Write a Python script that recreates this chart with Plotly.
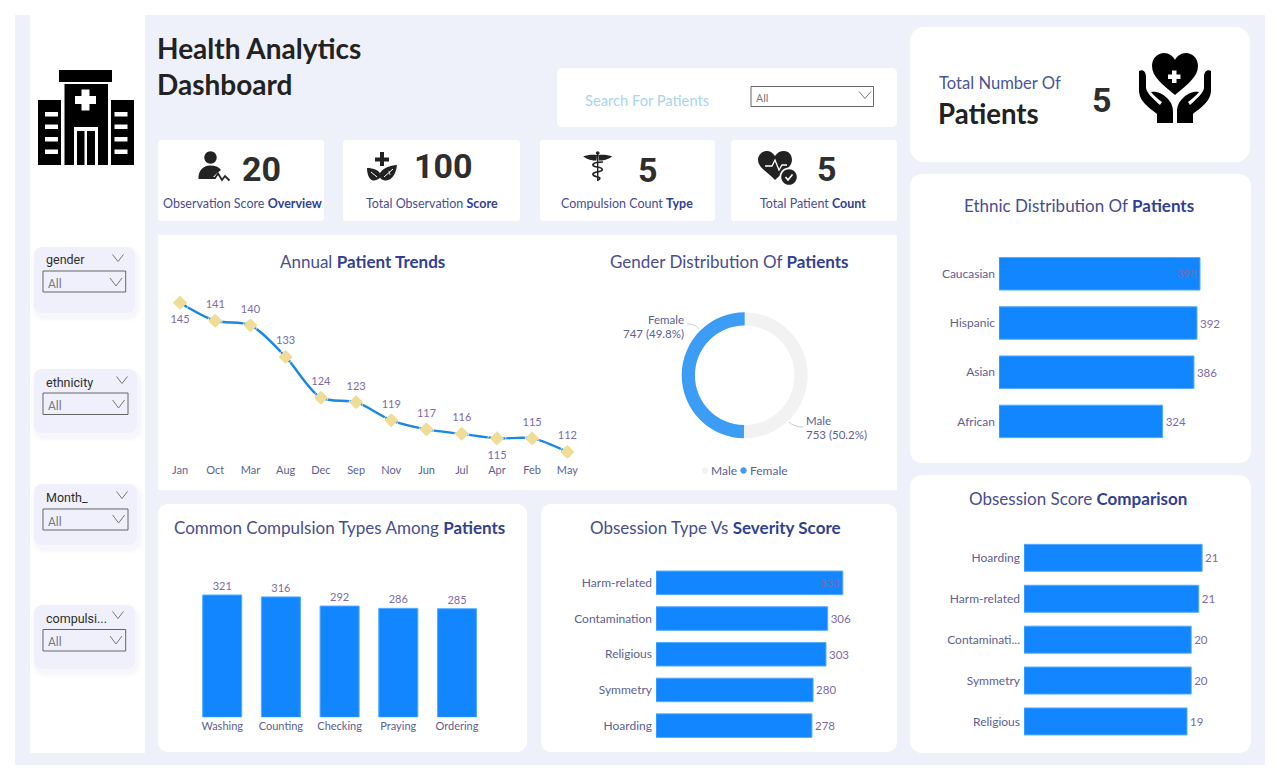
import re
import plotly.graph_objects as go

W, H = 1280, 780

# Data
months = ["Jan", "Oct", "Mar", "Aug", "Dec", "Sep", "Nov", "Jun", "Jul", "Apr", "Feb", "May"]
patient_counts = [145, 141, 140, 133, 124, 123, 119, 117, 116, 115, 115, 112]
month_label_side = ["bottom center", "top center", "top center", "top center", "top center", "top center",
                    "top center", "top center", "top center", "bottom center", "top center", "top center"]

genders = ["Male", "Female"]
gender_counts = [753, 747]

compulsions = ["Washing", "Counting", "Checking", "Praying", "Ordering"]
compulsion_counts = [321, 316, 292, 286, 285]

severity_types = ["Harm-related", "Contamination", "Religious", "Symmetry", "Hoarding"]
severity_scores = [333, 306, 303, 280, 278]

ethnicities = ["Caucasian", "Hispanic", "Asian", "African"]
ethnicity_counts = [398, 392, 386, 324]

score_types = ["Hoarding", "Harm-related", "Contaminati...", "Symmetry", "Religious"]
score_means = [21.2, 20.8, 19.9, 19.9, 19.4]

kpi_values = ["20", "100", "5", "5"]
total_patients = "5"

# Palette and fonts
LAVENDER = "#EEF0FA"
BAR = "#1186FF"
BAR_EDGE = "#55ABFF"
TITLE = "#474E90"
TITLE_BOLD = "#323F93"
LABEL = "#7B6BA8"
TICK = "#5C6193"
INK = "#222222"
NUMBER = "#2E2E2E"
SANS = "Lato"
DIN = "Roboto"

shapes, notes = [], []


def fx(px):
    return px / W


def fy(py):
    return 1 - py / H


def to_paper(d):
    """Convert an absolute M/L/C/Z path in screen pixels to paper fractions."""
    out, is_x = [], True
    for tok in re.findall(r"[MLCZ]|-?[\d.]+", d):
        if tok in "MLCZ":
            out.append(tok)
            is_x = True
        else:
            out.append(f"{fx(float(tok)):.5f}" if is_x else f"{fy(float(tok)):.5f}")
            is_x = not is_x
    return " ".join(out)


def path(d, fill="#000000", line=None, width=0, opacity=1.0, layer="below"):
    shapes.append(dict(type="path", xref="paper", yref="paper", path=to_paper(d), layer=layer, opacity=opacity,
                       line=dict(color=line or "rgba(0,0,0,0)", width=width), fillcolor=fill))


def rrect_d(x0, y0, x1, y1, r=0):
    if r == 0:
        return f"M {x0} {y0} L {x1} {y0} L {x1} {y1} L {x0} {y1} Z"
    k = r * 0.45
    return (f"M {x0 + r} {y0} L {x1 - r} {y0} C {x1 - k} {y0} {x1} {y0 + k} {x1} {y0 + r} "
            f"L {x1} {y1 - r} C {x1} {y1 - k} {x1 - k} {y1} {x1 - r} {y1} "
            f"L {x0 + r} {y1} C {x0 + k} {y1} {x0} {y1 - k} {x0} {y1 - r} "
            f"L {x0} {y0 + r} C {x0} {y0 + k} {x0 + k} {y0} {x0 + r} {y0} Z")


def rect(x0, y0, x1, y1, fill="#FFFFFF", r=0, **kw):
    path(rrect_d(x0, y0, x1, y1, r), fill=fill, **kw)


def circle(cx, cy, r, fill="#000000", **kw):
    k = r * 0.5523
    path(f"M {cx - r} {cy} C {cx - r} {cy - k} {cx - k} {cy - r} {cx} {cy - r} "
         f"C {cx + k} {cy - r} {cx + r} {cy - k} {cx + r} {cy} "
         f"C {cx + r} {cy + k} {cx + k} {cy + r} {cx} {cy + r} "
         f"C {cx - k} {cy + r} {cx - r} {cy + k} {cx - r} {cy} Z", fill=fill, **kw)


def stroke(d, color="#000000", width=1.0):
    path(d, fill="rgba(0,0,0,0)", line=color, width=width)


def chevron(cx, cy, half=5.5, drop=3.5):
    stroke(f"M {cx - half} {cy - drop} L {cx} {cy + drop} L {cx + half} {cy - drop}", "#777777", 1)


def mirror(d, axis):
    out, is_x = [], True
    for tok in re.findall(r"[MLCZ]|-?[\d.]+", d):
        if tok in "MLCZ":
            out.append(tok)
            is_x = True
        else:
            out.append(str(2 * axis - float(tok)) if is_x else tok)
            is_x = not is_x
    return " ".join(out)


def text(x, y, s, size, color, anchor="left", family=SANS):
    notes.append(dict(x=fx(x), y=fy(y), xref="paper", yref="paper", text=s, showarrow=False,
                      xanchor=anchor, yanchor="middle", borderpad=0, align=anchor,
                      font=dict(size=size, color=color, family=family)))


def heading(x, y, plain, bold, size=17):
    text(x, y, f"{plain} <b style='color:{TITLE_BOLD}'>{bold}</b>", size, TITLE, "center")


# Page backdrop and panels
rect(15, 15, 1265, 765, LAVENDER)
rect(30, 15, 145, 753, "#FFFFFF")
rect(557, 68, 897, 127, "#FFFFFF", r=5)
for x0, x1 in [(158, 324), (343, 520), (540, 715), (731, 897)]:
    rect(x0, 140, x1, 221, "#FFFFFF", r=3)
rect(158, 235, 897, 490, "#FFFFFF")
rect(158, 504, 527, 752, "#FFFFFF", r=10)
rect(541, 504, 897, 752, "#FFFFFF", r=10)
rect(910, 27, 1250, 162, "#FFFFFF", r=14)
rect(910, 174, 1251, 463, "#FFFFFF", r=12)
rect(910, 475, 1251, 753, "#FFFFFF", r=12)

# Filter cards in the sidebar
filters = [
    ("gender", 34, 135, 247, 313, 43, 125.7, 271, 292, 118, 258, 116, 282, 260),
    ("ethnicity", 34, 137, 369, 433, 43, 128, 393, 414.5, 122, 380, 118.6, 404, 382),
    ("Month_", 34, 137, 484, 545, 43, 128, 509, 530, 122, 495, 118.6, 519, 498),
    ("compulsi...", 34, 135, 605, 669, 43, 125.7, 629.5, 651, 118, 615, 116, 640, 618),
]
for name, cx0, cx1, cy0, cy1, bx0, bx1, by0, by1, hx, hy, dx, dy, ty in filters:
    for grow, alpha in [(5, 0.07), (3, 0.10), (1.5, 0.14)]:
        rect(cx0 - grow + 2, cy0 - grow + 4, cx1 + grow + 2, cy1 + grow + 4, "#E4E6F4", r=9 + grow, opacity=alpha)
    rect(cx0, cy0, cx1, cy1, "#EFF0FB", r=8)
    rect(bx0, by0, bx1, by1, "rgba(0,0,0,0)", line="#666666", width=1)
    chevron(hx, hy)
    chevron(dx, dy, half=6, drop=4)
    text(44.5, ty, name, 12.5, "#2E2E2E", family=DIN)
    text(47, (by0 + by1) / 2 + 2, "All", 12, "#7A7A7A", family=DIN)

# Hospital icon
rect(59, 70, 112, 82, "#000000")
rect(64.5, 84, 108, 165, "#000000")
rect(38, 100, 61, 165, "#000000")
rect(111, 100, 134, 165, "#000000")
rect(81.5, 89.5, 89.5, 110.5, "#FFFFFF")
rect(75, 96, 96, 104, "#FFFFFF")
for wy in [112, 124.5, 137, 149.5]:
    rect(45, wy, 58, wy + 4.5, "#FFFFFF")
    rect(114.5, wy, 127.5, wy + 4.5, "#FFFFFF")
rect(74, 127, 98, 165, "#FFFFFF")
rect(77, 131, 84.5, 165, "#000000")
rect(87, 131, 95, 165, "#000000")

# Page title and search box
text(156, 48, "<b>Health Analytics</b>", 28, INK)
text(156, 84, "<b>Dashboard</b>", 28, INK)
text(583.5, 100.5, "Search For Patients", 14.7, "#A9D4EE")
rect(751, 86.5, 873.5, 106.5, "rgba(0,0,0,0)", line="#666666", width=1)
text(755, 98, "All", 11, "#7A7A7A", family=DIN)
chevron(865, 95, half=6, drop=3.5)

# KPI tiles
text(261, 168.5, f"<b>{kpi_values[0]}</b>", 34, NUMBER, "center", DIN)
text(443, 165.5, f"<b>{kpi_values[1]}</b>", 34, NUMBER, "center", DIN)
text(648, 169.5, f"<b>{kpi_values[2]}</b>", 34, NUMBER, "center", DIN)
text(827, 168.5, f"<b>{kpi_values[3]}</b>", 34, NUMBER, "center", DIN)
for cx, plain, bold in [(242.5, "Observation Score", "Overview"), (432, "Total Observation", "Score"),
                        (627, "Compulsion Count", "Type"), (812.5, "Total Patient", "Count")]:
    text(cx, 203.5, f"{plain} <b style='color:{TITLE_BOLD}'>{bold}</b>", 12.5, TITLE, "center")

# Person with pulse icon
circle(210.5, 157.5, 6.2, INK)
path("M 198.5 179 C 198 171 203 165.5 210 165.5 C 215 165.5 219 167 221 170 L 216 174 L 213 177 L 210 179 Z", INK)
stroke("M 209 178 L 215 178 L 218 173.5 L 222 180 L 225 176 L 229.5 180.5", INK, 1.8)

# Plus over two leaves icon
rect(380, 152, 384, 166, INK)
rect(375, 157.5, 389, 161.5, INK)
path("M 367 168 C 373 168 380 170 381 176 C 380 179 376 180.5 373 180.5 C 369 179.5 367 174 367 168 Z", INK)
path("M 397 165 C 390 165.5 382 168 379.5 174 C 378.5 178 382 180.5 386 180.5 C 392 180 396 174 397 165 Z", INK)
stroke("M 371 172 L 377 177", "#FFFFFF", 1)
stroke("M 393 169 L 384 177", "#FFFFFF", 1)
stroke("M 389 171 L 390 175", "#FFFFFF", 0.8)

# Caduceus icon
wing = "M 597 155 C 592 154.5 587 155 583 156.5 C 586 158 590 161 596.5 160.5 Z"
path(wing, INK)
path(mirror(wing, 597.7), INK)
circle(597.7, 153, 1.8, INK)
rect(597, 153, 598.4, 181, INK)
stroke("M 603 162 C 592 162 590 166 597 167 C 604 168 604 171 597 172 C 591 173 592 176 598 177 "
       "C 601 178 600 179 598 180", INK, 1.7)

# Heart with check icon
path("M 775 180 C 767 172 758 167 758 160 C 758 155 762 151 767 151 C 770 151 773 153 775 156 "
     "C 777 153 780 151 784 151 C 789 151 792 155 792 160 C 792 167 783 172 775 180 Z", INK)
stroke("M 765 166 L 772 166 L 775 160 L 779 170 L 782 165 L 787 165", "#FFFFFF", 1.3)
circle(789, 177, 9.5, "#FFFFFF")
circle(789, 177, 7.8, INK)
stroke("M 785.5 177 L 788 180 L 792.5 174.5", "#FFFFFF", 1.6)

# Total patients card
text(937.5, 83, "Total Number Of", 16.6, "#4A5599")
text(937, 113, "<b>Patients</b>", 27.6, INK)
text(1102, 99.5, f"<b>{total_patients}</b>", 34, NUMBER, "center", DIN)
path("M 1175 95 C 1163 85 1152 77 1152 66 C 1152 58 1158 53 1164 53 C 1169 53 1173 56 1175 60 "
     "C 1177 56 1181 53 1186 53 C 1192 53 1198 58 1198 66 C 1198 77 1187 85 1175 95 Z", "#000000")
rect(1172, 70.5, 1176.5, 83, "#FFFFFF")
rect(1168, 74.5, 1180.5, 79, "#FFFFFF")
hand = ("M 1139 71 C 1143 69 1146 72 1146 77 L 1146 88 C 1147 93 1152 98 1160 105 L 1162 102 "
        "C 1158 99 1154 96 1151 92 C 1157 91 1163 94 1167 98 C 1171 102 1173 106 1173 112 "
        "L 1173 123 L 1157 123 L 1157 114 C 1150 108 1139 102 1139 90 Z")
path(hand, "#000000")
path(mirror(hand, 1175), "#000000")

# Chart headings
heading(362, 262, "Annual", "Patient Trends")
heading(729, 262, "Gender Distribution Of", "Patients")
heading(339.5, 527, "Common Compulsion Types Among", "Patients")
heading(715.5, 527, "Obsession Type Vs", "Severity Score")
heading(1079, 206, "Ethnic Distribution Of", "Patients")
heading(1078, 499, "Obsession Score", "Comparison")

# Donut callouts and legend
text(685, 319, genders[1], 11.5, TICK, "right")
text(685, 333, f"{gender_counts[1]} ({gender_counts[1] / sum(gender_counts):.1%})", 11.5, TICK, "right")
text(805, 420, genders[0], 11.5, TICK)
text(805, 434, f"{gender_counts[0]} ({gender_counts[0] / sum(gender_counts):.1%})", 11.5, TICK)
stroke("M 687 324 C 692 324 696 325 699 329", "#BDBDBD", 0.8)
stroke("M 789 422 C 792 425 797 427 803 427", "#BDBDBD", 0.8)
circle(705, 470.5, 3.2, "#F2F2F2")
circle(743.5, 470.5, 3.2, "#3D9DF5")
text(710, 470.5, genders[0], 12, TICK)
text(748.5, 470.5, genders[1], 12, TICK)

fig = go.Figure()


def hbar_trace(cats, vals, xa, ya, inside_first=True):
    fig.add_trace(go.Bar(
        y=cats, x=vals, orientation="h", xaxis=xa, yaxis=ya, width=0.66,
        marker=dict(color=BAR, line=dict(color=BAR_EDGE, width=1)),
        texttemplate="%{x:.0f}",
        textposition=["inside" if (inside_first and i == 0) else "outside" for i in range(len(vals))],
        insidetextanchor="end", constraintext="none", cliponaxis=False,
        textfont=dict(size=11.5, color=LABEL, family=SANS),
        outsidetextfont=dict(size=11.5, color=LABEL, family=SANS),
        insidetextfont=dict(size=11.5, color=LABEL, family=SANS),
    ))


# Monthly trend line
fig.add_trace(go.Scatter(
    x=months, y=patient_counts, xaxis="x", yaxis="y", mode="lines+markers",
    line=dict(color="#1A87E2", width=2.4, shape="spline", smoothing=0.9),
    marker=dict(symbol="diamond", size=11, color="#EFDC97"),
    cliponaxis=False,
))
# Value labels sit on a transparent marker layer, which sets their gap from the line
fig.add_trace(go.Scatter(
    x=months, y=patient_counts, xaxis="x", yaxis="y", mode="markers+text",
    marker=dict(size=[18 if side.startswith("bottom") else 14 for side in month_label_side],
                color="rgba(0,0,0,0)"),
    text=[str(v) for v in patient_counts], textposition=month_label_side,
    textfont=dict(size=11, color=LABEL, family=SANS), cliponaxis=False,
))

# Gender donut
fig.add_trace(go.Pie(
    labels=genders, values=gender_counts, hole=0.79, sort=False, direction="clockwise", rotation=0,
    textinfo="none", marker=dict(colors=["#F2F2F2", "#3D9DF5"], line=dict(width=0)),
    domain=dict(x=[fx(681.7), fx(807.7)], y=[fy(438.3), fy(312.3)]), showlegend=False,
))

# Compulsion columns
fig.add_trace(go.Bar(
    x=compulsions, y=compulsion_counts, xaxis="x2", yaxis="y2", width=0.665,
    marker=dict(color=BAR, line=dict(color=BAR_EDGE, width=1)),
    text=[str(v) for v in compulsion_counts], textposition="outside", cliponaxis=False,
    textfont=dict(size=11, color=LABEL, family=SANS),
))

hbar_trace(severity_types, severity_scores, "x3", "y3")
hbar_trace(ethnicities, ethnicity_counts, "x4", "y4")
hbar_trace(score_types, score_means, "x5", "y5", inside_first=False)


def hidden_axis(rng):
    return dict(range=rng, visible=False, fixedrange=True)


def cat_axis(rng, size=12, standoff=0):
    return dict(type="category", range=rng, showgrid=False, zeroline=False, showline=False, ticks="",
                ticklabelstandoff=standoff, tickfont=dict(size=size, color=TICK, family=SANS), fixedrange=True)


fig.update_layout(
    width=W, height=H, margin=dict(l=0, r=0, t=0, b=0, pad=0), autosize=False,
    paper_bgcolor="#FFFFFF", plot_bgcolor="rgba(0,0,0,0)", showlegend=False, barmode="overlay",
    shapes=shapes, annotations=notes, font=dict(family=SANS),
    # Trend line
    xaxis=dict(domain=[fx(162.4), fx(585)], anchor="y", **cat_axis([-0.5, 11.5], 11, 1)),
    yaxis=dict(domain=[fy(461), fy(290)], anchor="x", **hidden_axis([110.0, 147.8])),
    # Compulsion columns
    xaxis2=dict(domain=[fx(192.85), fx(486.35)], anchor="y2", **cat_axis([-0.5, 4.5], 11, 1)),
    yaxis2=dict(domain=[fy(717.3), fy(580)], anchor="x2", **hidden_axis([0, 360.4])),
    # Obsession type against severity
    xaxis3=dict(domain=[fx(656), fx(880)], anchor="y3", **hidden_axis([0, 399.3])),
    yaxis3=dict(domain=[fy(743.5), fy(565)], anchor="x3", **cat_axis([4.5, -0.5], 12, 3)),
    # Ethnic distribution
    xaxis4=dict(domain=[fx(999), fx(1240)], anchor="y4", **hidden_axis([0, 477.2])),
    yaxis4=dict(domain=[fy(446), fy(249.2)], anchor="x4", **cat_axis([3.5, -0.5], 12, 3)),
    # Obsession score comparison
    xaxis5=dict(domain=[fx(1024), fx(1240)], anchor="y5", **hidden_axis([0, 25.71])),
    yaxis5=dict(domain=[fy(741.9), fy(537.4)], anchor="x5", **cat_axis([4.5, -0.5], 12, 3)),
)

fig.write_html("out.html")
